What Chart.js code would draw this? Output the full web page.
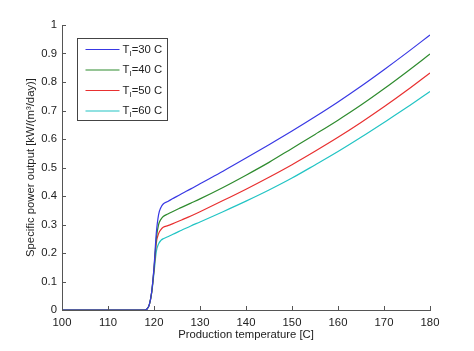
<!DOCTYPE html>
<html>
<head>
<meta charset="utf-8">
<script src="https://cdn.jsdelivr.net/npm/chart.js@4"></script>
<style>
  body { margin: 0; background: #fff; }
  canvas { display: block; }
</style>
</head>
<body>
<canvas id="powerChart" width="474" height="351"></canvas>
<script>
// Production temperature [C]
const temps = [100, 110, 118, 118.5, 119, 119.5, 120, 120.5, 121, 121.5, 122, 123, 124, 126, 128, 130, 135, 140, 145, 150, 155, 160, 165, 170, 175, 180];

// Specific power output for each T_l
const power30 = [0, 0, 0, 0.004, 0.02, 0.065, 0.15, 0.27, 0.335, 0.36, 0.372, 0.381, 0.39, 0.408, 0.425, 0.443, 0.487, 0.533, 0.58, 0.628, 0.678, 0.73, 0.785, 0.843, 0.903, 0.965];
const power40 = [0, 0, 0, 0.004, 0.02, 0.063, 0.145, 0.25, 0.3, 0.318, 0.328, 0.337, 0.345, 0.36, 0.375, 0.39, 0.43, 0.473, 0.518, 0.567, 0.616, 0.666, 0.719, 0.776, 0.836, 0.898];
const power50 = [0, 0, 0, 0.004, 0.02, 0.062, 0.14, 0.235, 0.268, 0.282, 0.29, 0.296, 0.302, 0.316, 0.33, 0.345, 0.384, 0.424, 0.466, 0.51, 0.557, 0.606, 0.658, 0.713, 0.771, 0.832];
const power60 = [0, 0, 0, 0.004, 0.02, 0.06, 0.13, 0.205, 0.232, 0.244, 0.25, 0.257, 0.265, 0.28, 0.295, 0.309, 0.345, 0.382, 0.421, 0.463, 0.509, 0.556, 0.606, 0.658, 0.711, 0.767];

const seriesLabels = ['30 C', '40 C', '50 C', '60 C'];
const seriesValues = [power30, power40, power50, power60];
const seriesColors = ['#3838e4', '#2e8b2e', '#e83030', '#22c4c4'];

const axisColor = '#555';
const textColor = '#222';
const fontFamily = '"Liberation Sans", Arial, sans-serif';
const fontSize = 11.3;

// draw inward tick marks like the original
const inwardTicks = {
    id: 'inwardTicks',
    afterDraw(chart) {
        const ctx = chart.ctx;
        const area = chart.chartArea;
        const xs = chart.scales.x;
        const ys = chart.scales.y;
        ctx.save();
        ctx.strokeStyle = axisColor;
        ctx.lineWidth = 1;
        ctx.beginPath();
        xs.ticks.forEach(t => {
            const px = Math.round(xs.getPixelForValue(t.value)) + 0.5;
            ctx.moveTo(px, area.bottom);
            ctx.lineTo(px, area.bottom - 4);
        });
        ys.ticks.forEach(t => {
            const py = Math.round(ys.getPixelForValue(t.value)) + 0.5;
            ctx.moveTo(area.left, py);
            ctx.lineTo(area.left + 4, py);
        });
        ctx.stroke();
        ctx.restore();
    }
};

// legend box inside the plot, with subscript l
const boxLegend = {
    id: 'boxLegend',
    afterDraw(chart) {
        const ctx = chart.ctx;
        const area = chart.chartArea;
        const left = area.left + 15.5;
        const top = area.top + 13.5;
        const w = 90;
        const h = 82;
        ctx.save();
        ctx.fillStyle = '#fff';
        ctx.fillRect(left, top, w, h);
        ctx.strokeStyle = '#444';
        ctx.lineWidth = 1;
        ctx.strokeRect(left, top, w, h);
        seriesLabels.forEach((label, i) => {
            const y = top + 11 + i * 20.5;
            ctx.strokeStyle = seriesColors[i];
            ctx.lineWidth = 1.2;
            ctx.beginPath();
            ctx.moveTo(left + 8, y);
            ctx.lineTo(left + 42, y);
            ctx.stroke();
            ctx.fillStyle = textColor;
            ctx.textBaseline = 'middle';
            ctx.font = fontSize + 'px ' + fontFamily;
            let x = left + 45;
            ctx.fillText('T', x, y);
            x += ctx.measureText('T').width;
            ctx.font = '8px ' + fontFamily;
            ctx.fillText('l', x, y + 4);
            x += ctx.measureText('l').width + 0.5;
            ctx.font = fontSize + 'px ' + fontFamily;
            ctx.fillText('=' + label, x, y);
        });
        ctx.restore();
    }
};

const datasets = seriesValues.map((vals, i) => ({
    label: 'T_l=' + seriesLabels[i],
    data: temps.map((t, j) => ({ x: t, y: vals[j] })),
    borderColor: seriesColors[i],
    borderWidth: 1.2,
    pointRadius: 0,
    fill: false,
    cubicInterpolationMode: 'monotone'
}));

new Chart(document.getElementById('powerChart'), {
    type: 'line',
    data: { datasets },
    options: {
        responsive: false,
        animation: false,
        layout: { padding: { left: 24, top: 25, right: 44, bottom: 0 } },
        plugins: {
            legend: { display: false },
            tooltip: { enabled: false }
        },
        scales: {
            x: {
                type: 'linear',
                min: 100,
                max: 180,
                grid: { display: false, drawTicks: false },
                border: { display: true, color: axisColor, width: 1 },
                ticks: {
                    stepSize: 10,
                    color: textColor,
                    font: { family: fontFamily, size: fontSize },
                    padding: 6,
                    maxRotation: 0
                },
                title: {
                    display: true,
                    text: 'Production temperature [C]',
                    color: textColor,
                    font: { family: fontFamily, size: fontSize },
                    padding: { top: 2, bottom: 9 }
                },
                afterFit(scale) { scale.height = 41; }
            },
            y: {
                min: 0,
                max: 1,
                grid: { display: false, drawTicks: false },
                border: { display: true, color: axisColor, width: 1 },
                ticks: {
                    stepSize: 0.1,
                    color: textColor,
                    font: { family: fontFamily, size: fontSize },
                    padding: 5,
                    callback: v => String(Math.round(v * 10) / 10)
                },
                title: {
                    display: true,
                    text: 'Specific power output [kW/(m³/day)]',
                    color: textColor,
                    font: { family: fontFamily, size: fontSize },
                    padding: { top: 0, bottom: 4 }
                },
                afterFit(scale) { scale.width = 38; }
            }
        }
    },
    plugins: [inwardTicks, boxLegend]
});
</script>
</body>
</html>
